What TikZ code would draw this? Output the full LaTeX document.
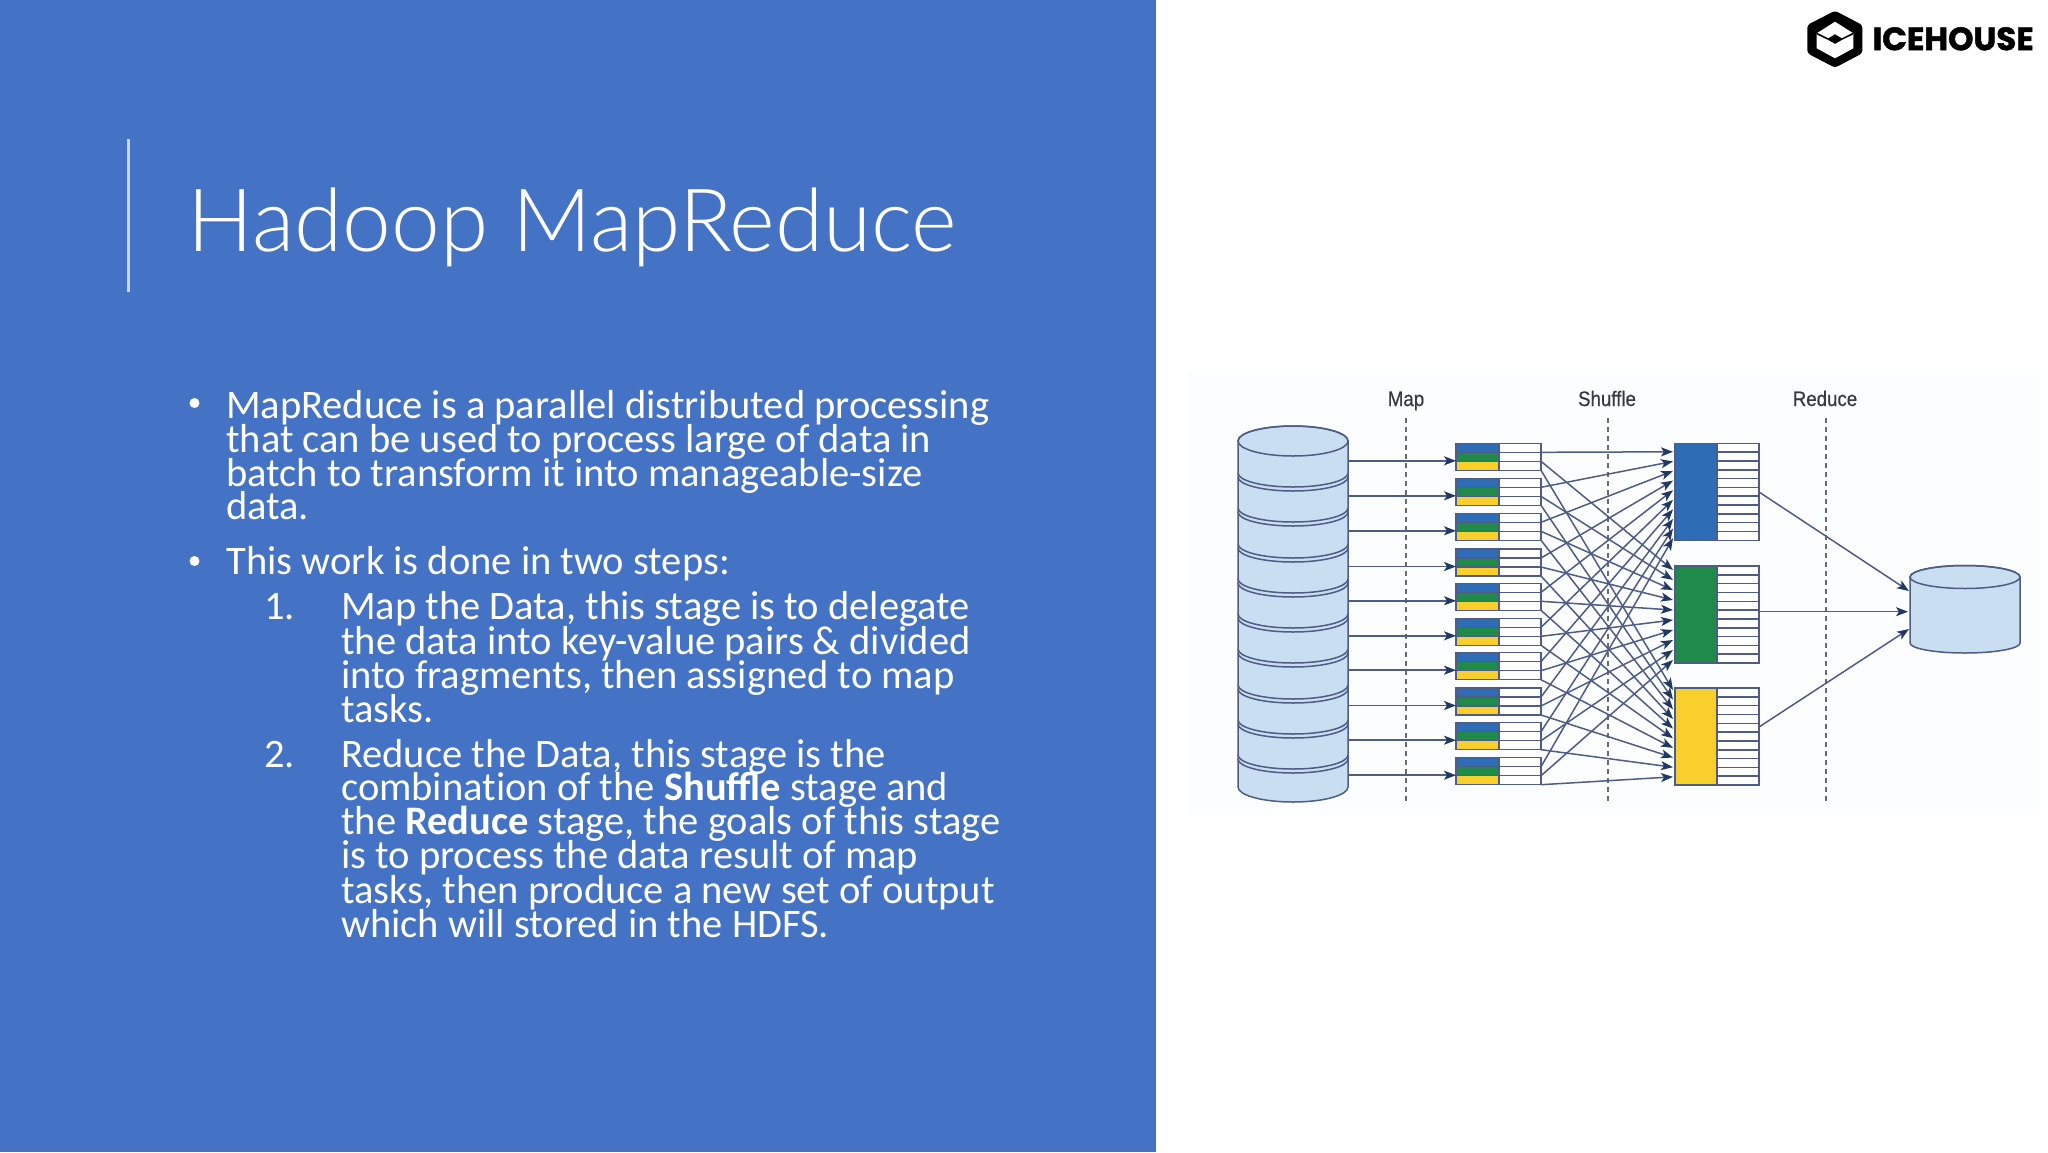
\documentclass[tikz,border=0pt]{standalone}
\usepackage{fontspec}
\usepackage{graphicx}
\setmainfont{Carlito}[Ligatures=NoCommon]
\newfontfamily\titlefont{Lato Light}
\newfontfamily\labelfont{Liberation Sans}
\newfontfamily\logofont{Poppins}
\usetikzlibrary{arrows.meta,calc}
\definecolor{panel}{HTML}{4472C4}
\definecolor{rulec}{HTML}{C9D6EE}
\definecolor{edgec}{HTML}{4E5C86}
\definecolor{tipc}{HTML}{1F3864}
\definecolor{cyl}{HTML}{C9DEF0}
\definecolor{kblue}{HTML}{2E6DB6}
\definecolor{kgreen}{HTML}{1F8A4A}
\definecolor{kyellow}{HTML}{F8CF2B}
\definecolor{labc}{HTML}{3A3A3A}
\definecolor{dashc}{HTML}{666A72}
\definecolor{tint}{HTML}{FCFDFE}
\tikzset{
  x=1pt,y=-1pt,
  body/.style={anchor=base west,inner sep=0pt,yshift=-1.3pt,text=white,font=\fontsize{40.5pt}{42pt}\selectfont},
  stagelabel/.style={anchor=base,inner sep=0pt,text=labc},
  stageline/.style={draw=dashc,line width=1.8pt,dash pattern=on 4.5pt off 4.5pt},
  boxline/.style={draw=edgec,line width=1.5pt},
  mapbox/.style={draw=edgec,line width=1.5pt,fill=white,anchor=north west,inner sep=0pt,outer sep=0pt,minimum width=85pt,minimum height=27pt},
  redbox/.style={draw=edgec,line width=1.5pt,fill=white,anchor=north west,inner sep=0pt,outer sep=0pt,minimum width=84pt,minimum height=97pt},
  ghost/.style={inner sep=0pt,outer sep=0pt,anchor=north west},
  flow/.style={draw=edgec,line width=1.5pt,-{Stealth[length=12pt,width=9pt,inset=3pt,color=tipc]}},
  cylline/.style={draw=edgec,line width=1.5pt},
}
\begin{document}
\begin{tikzpicture}
\useasboundingbox (0,0) rectangle (2048,1152);
\fill[white] (0,0) rectangle (2048,1152);
\fill[panel] (0,0) rectangle (1156,1152);
\fill[rulec] (126.5,139) rectangle (129.5,292);
\fill[tint] (1187,372) rectangle (2040,815);

% slide text
\node[anchor=base west,inner sep=0pt,text=white,font=\titlefont\fontsize{87.4pt}{90pt}\selectfont] (title) at (187.5,251) {Hadoop MapReduce};
\fill[white] (194.5,403) circle [radius=5pt];
\node[body] (l1) at (226,416.7) {MapReduce is a parallel distributed processing};
\node[body] (l2) at (226,450.7) {that can be used to process large of data in};
\node[body] (l3) at (226,485) {batch to transform it into manageable-size};
\node[body] (l4) at (226,518.3) {data.};
\fill[white] (194.5,561) circle [radius=5pt];
\node[body] (l5) at (226.5,573.3) {This work is done in two steps:};
\node[body] (n1) at (264,618) {1.};
\node[body] (l6) at (341,618) {Map the Data, this stage is to delegate};
\node[body] (l7) at (341,652.7) {the data into key-value pairs \& divided};
\node[body] (l8) at (341,686.7) {into fragments, then assigned to map};
\node[body] (l9) at (341,720.7) {tasks.};
\node[body] (n2) at (264,765.7) {2.};
\node[body] (l10) at (341,765.7) {Reduce the Data, this stage is the};
\node[body] (l11) at (341,799.3) {combination of the \textbf{\addfontfeature{Ligatures=Common}Shuffle} stage and};
\node[body] (l12) at (341,833.3) {the \textbf{Reduce} stage, the goals of this stage};
\node[body] (l13) at (341,867.3) {is to process the data result of map};
\node[body] (l14) at (341,901.7) {tasks, then produce a new set of output};
\node[body] (l15) at (341,935.7) {which will stored in the HDFS.};

% logo
\fill[black,rounded corners=3pt] (1835,10.7) -- (1862.3,25) -- (1862.3,53.3) -- (1835,67.7) -- (1807.3,53.3) -- (1807.3,25) -- cycle;
\fill[white] (1835,21.7) -- (1853.3,33.3) -- (1853.3,48.3) -- (1835,58.3) -- (1816.7,48.3) -- (1816.7,33.3) -- cycle;
\fill[black] (1816.7,32.5) -- (1828.3,38.3) -- (1835,34.3) -- (1841.7,38.3) -- (1853.3,32.5) -- (1853.3,34.4) -- (1841.7,40) -- (1835,43.8) -- (1828.3,40) -- (1816.7,34.4) -- cycle;
\node[anchor=south west,inner sep=0pt] (logo) at (1872.5,50.6) {\resizebox{161pt}{23pt}{\logofont\bfseries\addfontfeature{FakeBold=1.5}ICEHOUSE}};

% stage markers
\draw[stageline] (1406,418) -- (1406,804);
\draw[stageline] (1608,418) -- (1608,804);
\draw[stageline] (1826,418) -- (1826,804);
\node[stagelabel] (smap) at (1406,406) {\labelfont\addfontfeature{FakeBold=0.6}\fontsize{21pt}{22pt}\selectfont\scalebox{0.89}[1]{Map}};
\node[stagelabel] (sshuf) at (1607,406) {\labelfont\addfontfeature{FakeBold=0.6}\fontsize{21pt}{22pt}\selectfont\scalebox{0.89}[1]{Shuffle}};
\node[stagelabel] (sred) at (1825,406) {\labelfont\addfontfeature{FakeBold=0.6}\fontsize{21pt}{22pt}\selectfont\scalebox{0.89}[1]{Reduce}};

% input cylinder
\node[ghost,minimum width=110pt,minimum height=376pt] (src) at (1238,426) {};
\filldraw[cylline,fill=cyl] (1238,441) -- (1238,787) arc[start angle=180,end angle=360,x radius=55pt,y radius=15pt] -- (1348,441) arc[start angle=0,end angle=180,x radius=55pt,y radius=15pt] -- cycle;
\draw[cylline] (1293,441) ellipse [x radius=55pt,y radius=15pt];
\foreach \y in {473,508,544,579,614,649,685,720,755}{
  \draw[cylline] (1238,\y) arc[start angle=180,end angle=360,x radius=55pt,y radius=14pt];
  \draw[cylline] (1238,\y+4) arc[start angle=180,end angle=360,x radius=55pt,y radius=14pt];
}

% output cylinder
\node[ghost,minimum width=110pt,minimum height=88pt] (dst) at (1910,565) {};
\filldraw[cylline,fill=cyl] (1910,577) -- (1910,643) arc[start angle=180,end angle=360,x radius=55pt,y radius=10pt] -- (2020,577) arc[start angle=0,end angle=180,x radius=55pt,y radius=11.5pt] -- cycle;
\draw[cylline] (1965,577) ellipse [x radius=55pt,y radius=11.5pt];

% reduce boxes
\foreach \n/\y/\c in {rb/443.3/kblue,rg/566/kgreen,ry/688/kyellow}{
  \node[redbox] (\n) at (1675,\y) {};
  \fill[\c] (\n.north west) rectangle ($(\n.south west)+(42,0)$);
  \foreach \k in {1,...,10}{
    \draw[boxline] ($(\n.north west)+(42,\k*8.82)$) -- ($(\n.north east)+(0,\k*8.82)$);
  }
  \draw[boxline] ($(\n.north west)+(42,0)$) -- ($(\n.south west)+(42,0)$);
  \draw[boxline] (\n.north west) rectangle (\n.south east);
}

% map boxes, and the flows into them
\foreach \i/\y in {1/443.3,2/478.3,3/513.3,4/549,5/583.3,6/618.3,7/652.7,8/688,9/722.7,10/757.7}{
  \node[mapbox] (m\i) at (1456,\y) {};
  \fill[kblue] (m\i.north west) rectangle ($(m\i.north west)+(43,9)$);
  \fill[kgreen] ($(m\i.north west)+(0,9)$) rectangle ($(m\i.north west)+(43,18)$);
  \fill[kyellow] ($(m\i.north west)+(0,18)$) rectangle ($(m\i.north west)+(43,27)$);
  \coordinate (ma\i) at ($(m\i.north east)+(0,9)$);
  \coordinate (mb\i) at ($(m\i.north east)+(0,18)$);
  \coordinate (mc\i) at (m\i.south east);
  \coordinate (in\i) at ($(m\i.north west)+(0,17.5)$);
  \draw[boxline] ($(m\i.north west)+(0,9)$) -- (ma\i);
  \draw[boxline] ($(m\i.north west)+(0,18)$) -- (mb\i);
  \draw[boxline] ($(m\i.north west)+(43,0)$) -- ($(m\i.south west)+(43,0)$);
  \draw[boxline] (m\i.north west) rectangle (m\i.south east);
  \draw[flow] (src.east |- in\i) -- (in\i);
}

% shuffle
\foreach \i in {1,...,10}{
  \coordinate (ta\i) at ($(rb.north west)+(-2,8.5+9.6*\i-9.6)$);
  \coordinate (tb\i) at ($(rg.north west)+(-2,4+10*\i-10)$);
  \coordinate (tc\i) at ($(ry.north west)+(-2,2+9.65*\i-9.65)$);
  \draw[flow] (ma\i) -- (ta\i);
  \draw[flow] (mb\i) -- (tb\i);
  \draw[flow] (mc\i) -- (tc\i);
}

% reduce outputs
\coordinate (oa) at (1759,492);
\coordinate (ob) at (1759,611.7);
\coordinate (oc) at (1759,727);
\coordinate (ia) at (1909,591);
\coordinate (ib) at (1908,611.7);
\coordinate (ic) at (1909,629);
\draw[flow] (oa) -- (ia);
\draw[flow] (ob) -- (ib);
\draw[flow] (oc) -- (ic);
\end{tikzpicture}
\end{document}
